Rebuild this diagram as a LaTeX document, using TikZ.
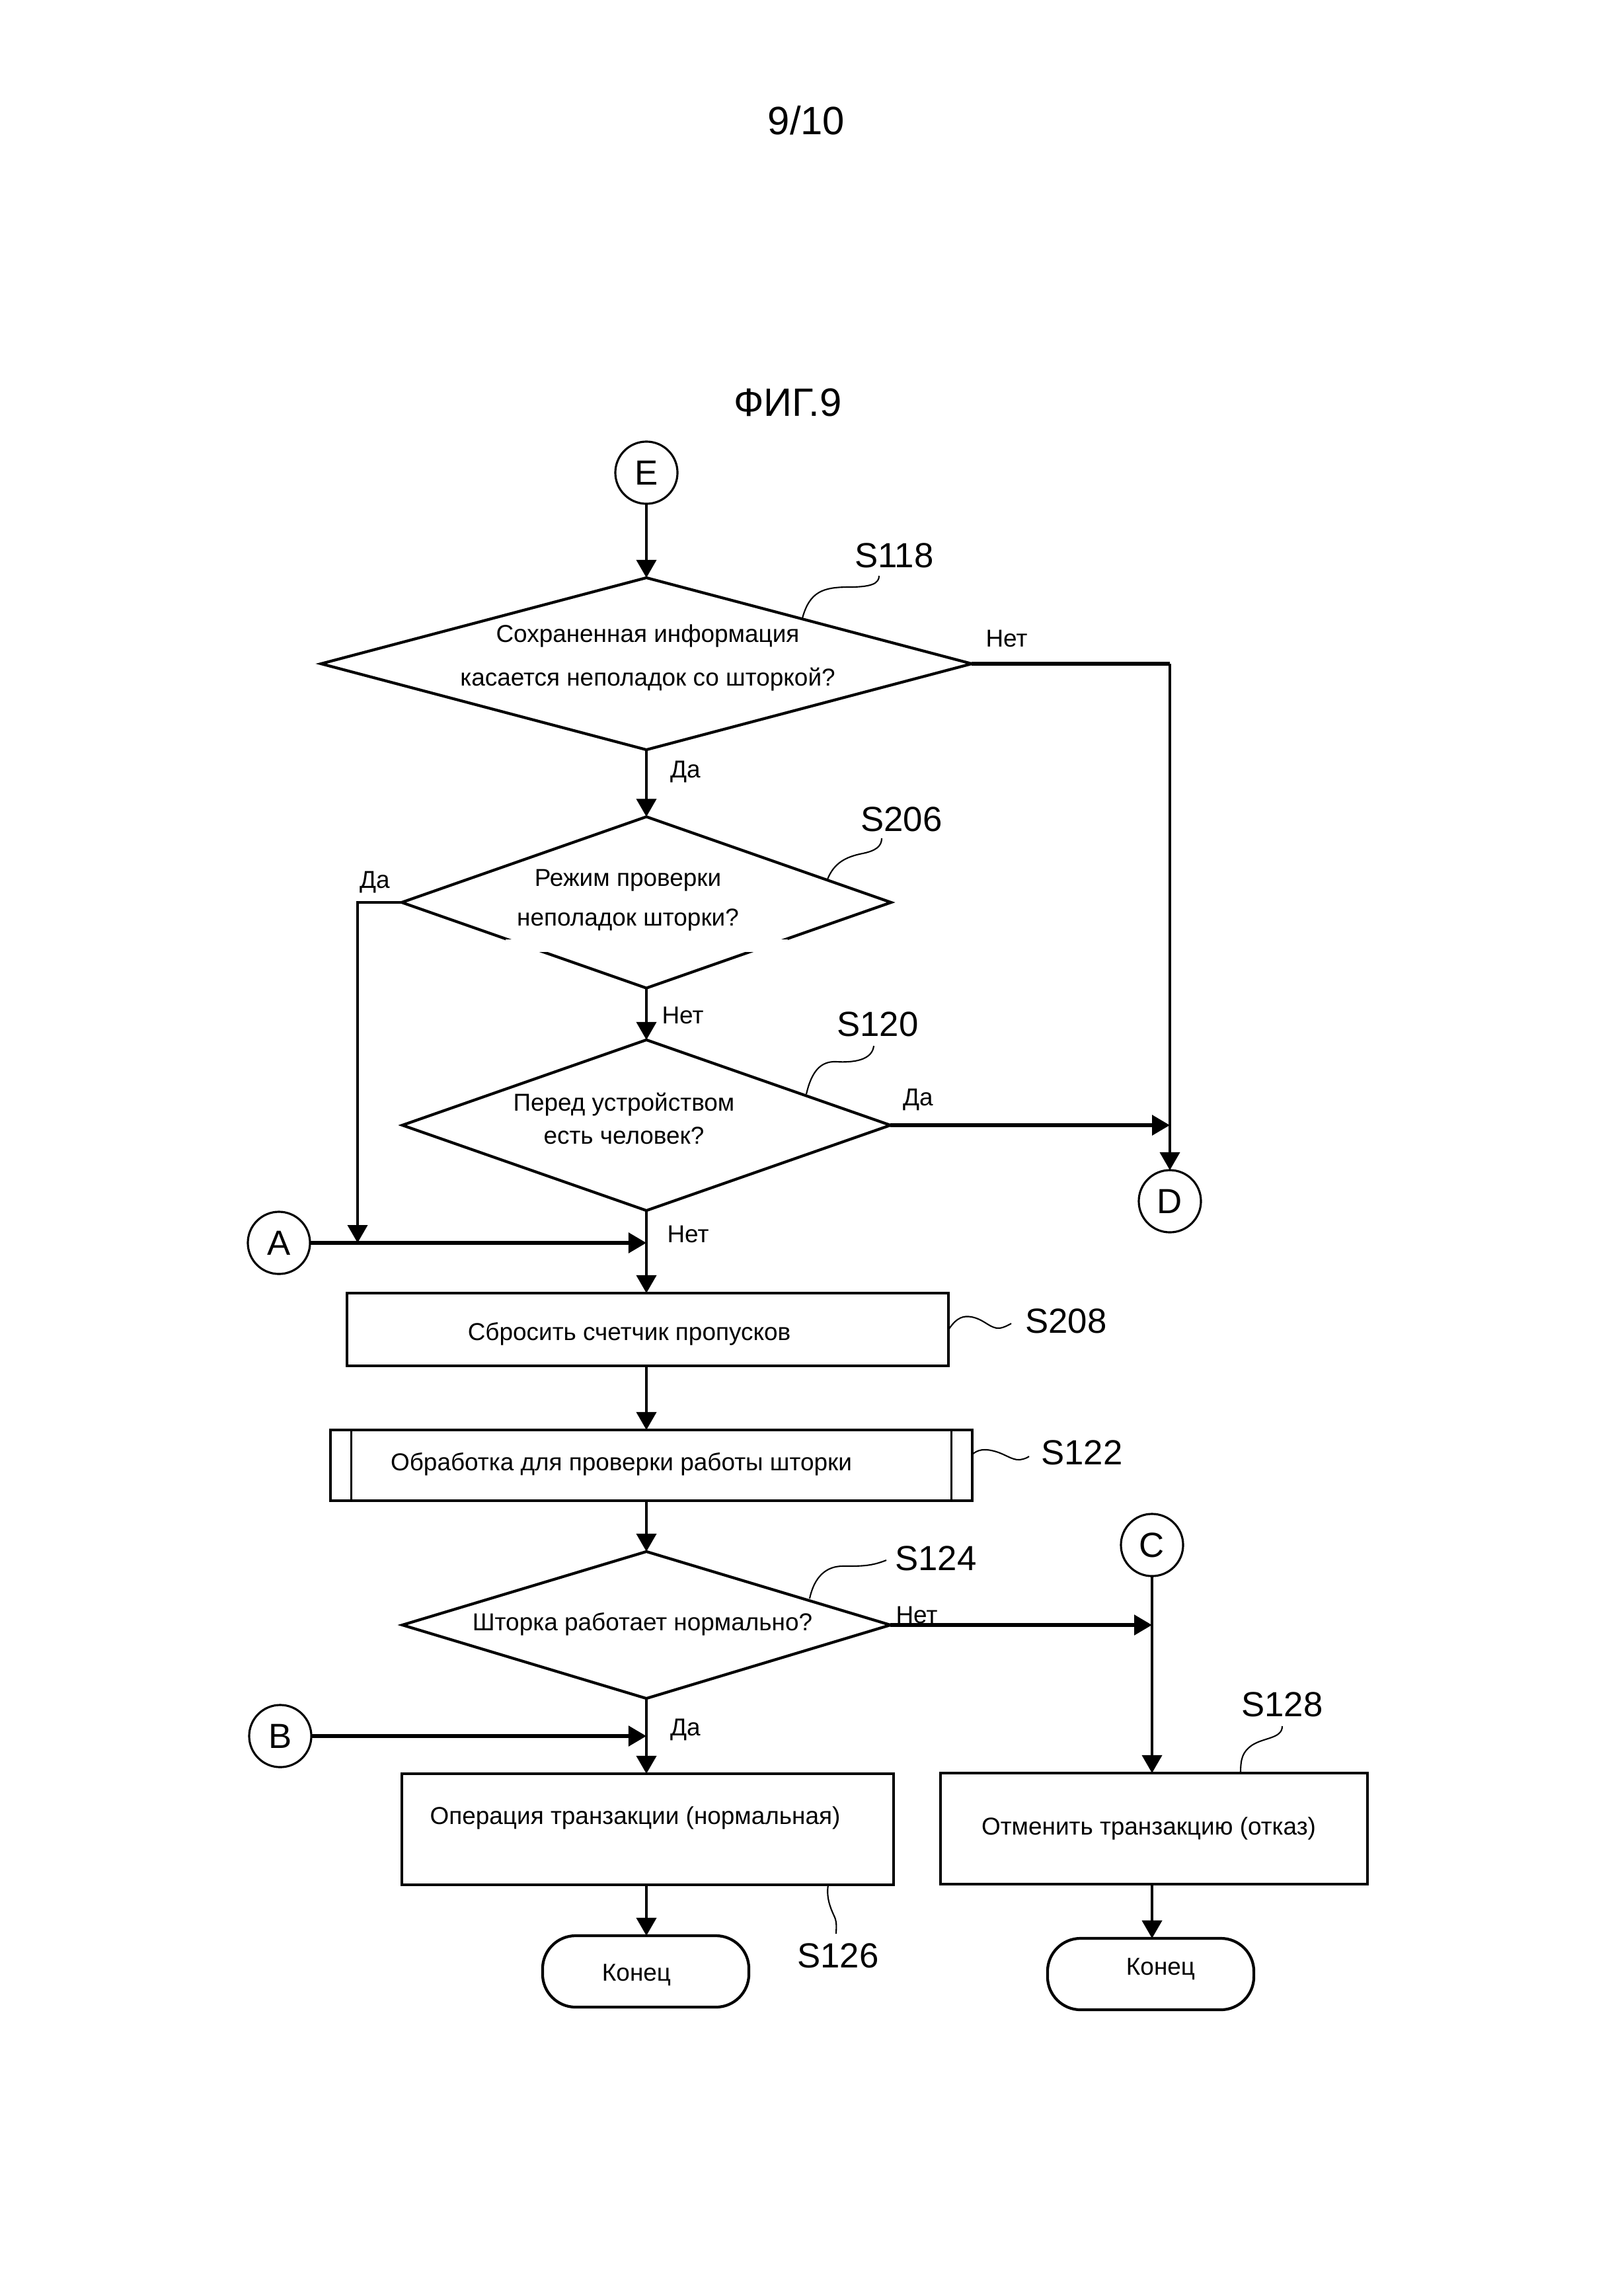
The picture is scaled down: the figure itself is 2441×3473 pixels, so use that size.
\documentclass[tikz,border=0pt]{standalone}
\usepackage{fontspec}
\setmainfont{Liberation Sans}
\usetikzlibrary{shapes.geometric,arrows.meta,calc}
\begin{document}
\begin{tikzpicture}[x=0.01cm,y=-0.01cm,
  line width=1.1pt,
  every node/.style={inner sep=0pt, outer sep=0pt},
  txt/.style={font=\fontsize{10.5}{12}\selectfont, align=center},
  lbl/.style={font=\fontsize{10.5}{12}\selectfont},
  stepno/.style={font=\fontsize{15}{18}\selectfont},
  conn/.style={circle, draw, line width=0.9pt, minimum size=0.94cm, font=\fontsize{15}{18}\selectfont},
  dec/.style={diamond, draw, line width=1.2pt},
  proc/.style={rectangle, draw, line width=1.2pt},
  term/.style={rectangle, rounded corners=0.5cm, draw, line width=1.2pt, minimum width=3.12cm, minimum height=1.08cm},
  arr/.style={-{Triangle[length=0.27cm,width=0.30cm]}},
  thk/.style={line width=1.6pt},
  lead/.style={line width=0.6pt},
]
\useasboundingbox (0,0) rectangle (2441,3473);

% headings
\node[font=\fontsize{17}{20}\selectfont] (page) at (1220,182) {9/10};
\node[font=\fontsize{17}{20}\selectfont] (fig) at (1192,609) {ФИГ.9};

% connectors (circles)
\node[conn] (E) at (978,715) {E};
\node[conn] (D) at (1770,1817) {D};
\node[conn] (A) at (422,1880) {A};
\node[conn] (C) at (1743,2337) {C};
\node[conn] (B) at (424,2626) {B};

% S118
\node[dec, minimum width=9.84cm, minimum height=2.60cm] (S118) at (978,1004) {};
\node[txt, font=\fontsize{10.5}{18.7}\selectfont] (t118) at (980,995) {Сохраненная информация\\касается неполадок со шторкой?};

% S206
\node[dec, minimum width=7.40cm, minimum height=2.59cm] (S206) at (978,1365) {};
\fill[white] (765,1421) rectangle (1192,1440);
\node[txt, font=\fontsize{10.5}{17}\selectfont] (t206) at (950,1362) {Режим проверки\\неполадок шторки?};

% S120
\node[dec, minimum width=7.38cm, minimum height=2.58cm] (S120) at (978,1702) {};
\node[txt, font=\fontsize{10.5}{14}\selectfont] (t120) at (944,1692) {Перед устройством\\есть человек?};

% S208
\node[proc, minimum width=9.10cm, minimum height=1.10cm] (S208) at (980,2011) {};
\node[txt] (t208) at (952,2018) {Сбросить счетчик пропусков};

% S122
\node[proc, minimum width=9.71cm, minimum height=1.07cm] (S122) at (985.5,2216.5) {};
\draw[line width=1.0pt] ($(S122.north west)+(32,0)$) -- ($(S122.south west)+(32,0)$)
                        ($(S122.north east)+(-32,0)$) -- ($(S122.south east)+(-32,0)$);
\node[txt] (t122) at (940,2215) {Обработка для проверки работы шторки};

% S124
\node[dec, minimum width=7.38cm, minimum height=2.22cm] (S124) at (978,2458) {};
\node[txt] (t124) at (972,2457) {Шторка работает нормально?};

% S126 / S128
\node[proc, minimum width=7.44cm, minimum height=1.68cm] (S126) at (980,2767) {};
\node[txt] (t126) at (961,2750) {Операция транзакции (нормальная)};
\node[proc, minimum width=6.46cm, minimum height=1.68cm] (S128) at (1746,2766) {};
\node[txt] (t128) at (1738,2766) {Отменить транзакцию (отказ)};

% terminals
\node[term] (T1) at (977,2982) {};
\node[txt] (tt1) at (963,2987) {Конец};
\node[term] (T2) at (1741,2986) {};
\node[txt] (tt2) at (1756,2978) {Конец};

% flow lines
\draw[arr] (E) -- (S118.north);
\coordinate (k1) at (S118.east -| D.north);
\draw[thk] (S118.east) -- (k1);
\draw[arr] (k1) -- (D.north);
\draw[arr] (S118.south) -- (S206.north);
\coordinate (k2) at (541,1365);
\coordinate (k3) at (541,1880);
\draw[arr] (S206.west) -- (k2) -- (k3);
\draw[arr] (S206.south) -- (S120.north);
\draw[arr,thk] (S120.east) -- (S120.east -| D.north);
\coordinate (k4) at (S120.south |- A.east);
\draw[arr,thk] (A.east) -- (k4);
\draw[arr] (S120.south) -- (S120.south |- S208.north);
\draw[arr] (S120.south |- S208.south) -- (S120.south |- S122.north);
\draw[arr] (S124.north |- S122.south) -- (S124.north);
\draw[arr,thk] (S124.east) -- (S124.east -| C.south);
\draw[arr] (C.south) -- (C.south |- S128.north);
\draw[arr] (S124.south) -- (S124.south |- S126.north);
\coordinate (k5) at (S124.south |- B.east);
\draw[arr,thk] (B.east) -- (k5);
\draw[arr] (S124.south |- S126.south) -- (S124.south |- T1.north);
\draw[arr] (C.south |- S128.south) -- (C.south |- T2.north);

% branch labels
\node[lbl] (n118) at (1523,966) {Нет};
\node[lbl] (d118) at (1037,1167) {Да};
\node[lbl] (d206) at (567,1334) {Да};
\node[lbl] (n206) at (1033,1536) {Нет};
\node[lbl] (d120) at (1389,1663) {Да};
\node[lbl] (n120) at (1041,1867) {Нет};
\node[lbl] (n124) at (1387,2443) {Нет};
\node[lbl] (d124) at (1037,2616) {Да};

% step numbers
\node[stepno] (l118) at (1353,840) {S118};
\node[stepno] (l206) at (1364,1239) {S206};
\node[stepno] (l120) at (1328,1549) {S120};
\node[stepno] (l208) at (1613,1998) {S208};
\node[stepno] (l122) at (1637,2197) {S122};
\node[stepno] (l124) at (1416,2357) {S124};
\node[stepno] (l128) at (1940,2578) {S128};
\node[stepno] (l126) at (1268,2958) {S126};

% leaders
\draw[lead] (1214,935) .. controls (1225,895) and (1245,888) .. (1285,888) .. controls (1320,888) and (1330,882) .. (1330,871);
\draw[lead] (1252,1330) .. controls (1262,1305) and (1280,1296) .. (1305,1291) .. controls (1325,1287) and (1334,1280) .. (1334,1268);
\draw[lead] (1220,1655) .. controls (1228,1620) and (1242,1605) .. (1265,1606) .. controls (1300,1608) and (1320,1600) .. (1322,1582);
\draw[lead] (1225,2418) .. controls (1232,2385) and (1250,2369) .. (1275,2369) .. controls (1305,2369) and (1318,2369) .. (1341,2360);
\draw[lead] (S208.east) .. controls (1448,1992) and (1458,1990) .. (1470,1992) .. controls (1490,1996) and (1498,2010) .. (1512,2009) .. controls (1520,2008) and (1526,2004) .. (1530,2002);
\draw[lead] (1471,2200) .. controls (1480,2192) and (1490,2192) .. (1500,2194) .. controls (1520,2198) and (1530,2209) .. (1543,2208) .. controls (1550,2207) and (1554,2205) .. (1557,2203);
\draw[lead] (1877,2682) .. controls (1877,2660) and (1880,2650) .. (1894,2640) .. controls (1912,2628) and (1940,2630) .. (1940,2611);
\draw[lead] (1253,2851) .. controls (1250,2870) and (1256,2885) .. (1262,2898) .. controls (1267,2908) and (1265,2918) .. (1265,2925);
\end{tikzpicture}
\end{document}
